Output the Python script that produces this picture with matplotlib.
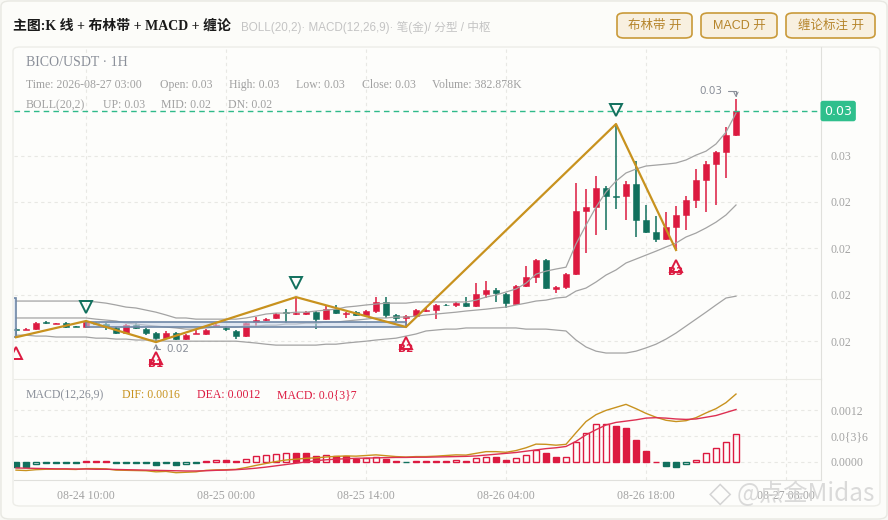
import matplotlib
matplotlib.use('Agg')
import matplotlib.pyplot as plt
from matplotlib.patches import FancyBboxPatch, Rectangle
from matplotlib.transforms import offset_copy, blended_transform_factory

# ---------------- data ----------------
opens = [0.01852, 0.01850, 0.01852, 0.01880, 0.01876, 0.01878, 0.01863, 0.01861, 0.01878, 0.01874,
         0.01857, 0.01835, 0.01869, 0.01852, 0.01835, 0.01813, 0.01835, 0.01809, 0.01833, 0.01831,
         0.01865, 0.01857, 0.01844, 0.01822, 0.01882, 0.01893, 0.01900, 0.01923, 0.01917, 0.01917,
         0.01926, 0.01895, 0.01938, 0.01919, 0.01926, 0.01913, 0.01930, 0.01969, 0.01913, 0.01900,
         0.01908, 0.01932, 0.01934, 0.01956, 0.01956, 0.01964, 0.01951, 0.02003, 0.02020, 0.02003,
         0.01960, 0.02038, 0.02076, 0.02150, 0.02025, 0.02033, 0.02089, 0.02361, 0.02378, 0.02460,
         0.02423, 0.02425, 0.02477, 0.02322, 0.02270, 0.02240, 0.02292, 0.02344, 0.02408, 0.02494,
         0.02563, 0.02615, 0.02688]
highs = [0.01857, 0.01857, 0.01882, 0.01887, 0.01880, 0.01882, 0.01865, 0.01887, 0.01882, 0.01878,
         0.01861, 0.01874, 0.01878, 0.01857, 0.01839, 0.01844, 0.01839, 0.01831, 0.01848, 0.01852,
         0.01874, 0.01865, 0.01848, 0.01882, 0.01904, 0.01900, 0.01921, 0.01938, 0.01990, 0.01930,
         0.01930, 0.01951, 0.01956, 0.01926, 0.01930, 0.01934, 0.01990, 0.01990, 0.01917, 0.01913,
         0.01938, 0.01943, 0.01960, 0.01960, 0.01969, 0.01990, 0.02051, 0.02059, 0.02029, 0.02007,
         0.02042, 0.02124, 0.02154, 0.02154, 0.02038, 0.02094, 0.02482, 0.02456, 0.02512, 0.02469,
         0.02736, 0.02490, 0.02576, 0.02387, 0.02339, 0.02357, 0.02382, 0.02425, 0.02542, 0.02576,
         0.02619, 0.02723, 0.02844]
lows = [0.01817, 0.01848, 0.01848, 0.01874, 0.01874, 0.01857, 0.01859, 0.01857, 0.01869, 0.01848,
        0.01831, 0.01831, 0.01852, 0.01826, 0.01796, 0.01809, 0.01805, 0.01805, 0.01831, 0.01826,
        0.01861, 0.01844, 0.01809, 0.01818, 0.01861, 0.01887, 0.01895, 0.01878, 0.01913, 0.01913,
        0.01852, 0.01891, 0.01917, 0.01900, 0.01908, 0.01908, 0.01921, 0.01900, 0.01887, 0.01861,
        0.01904, 0.01926, 0.01895, 0.01951, 0.01947, 0.01947, 0.01947, 0.01986, 0.01969, 0.01943,
        0.01956, 0.02033, 0.02051, 0.02025, 0.02007, 0.02025, 0.02085, 0.02180, 0.02257, 0.02279,
        0.02369, 0.02322, 0.02249, 0.02266, 0.02227, 0.02236, 0.02193, 0.02279, 0.02374, 0.02357,
        0.02387, 0.02503, 0.02684]
closes = [0.01848, 0.01852, 0.01878, 0.01878, 0.01878, 0.01861, 0.01861, 0.01882, 0.01874, 0.01861,
          0.01835, 0.01869, 0.01857, 0.01835, 0.01813, 0.01835, 0.01809, 0.01826, 0.01835, 0.01848,
          0.01868, 0.01854, 0.01822, 0.01878, 0.01891, 0.01895, 0.01917, 0.01921, 0.01921, 0.01926,
          0.01895, 0.01938, 0.01921, 0.01921, 0.01913, 0.01930, 0.01969, 0.01913, 0.01900, 0.01908,
          0.01934, 0.01934, 0.01956, 0.01954, 0.01964, 0.01951, 0.02003, 0.02020, 0.02007, 0.01964,
          0.02038, 0.02076, 0.02150, 0.02029, 0.02033, 0.02089, 0.02361, 0.02378, 0.02460, 0.02425,
          0.02421, 0.02477, 0.02322, 0.02270, 0.02240, 0.02292, 0.02344, 0.02408, 0.02494, 0.02563,
          0.02615, 0.02688, 0.02792]

boll_up = [0.01973, 0.01973, 0.01973, 0.01973, 0.01973, 0.01973, 0.01973, 0.01973, 0.01969, 0.01964,
           0.01956, 0.01947, 0.01943, 0.01934, 0.01925, 0.01913, 0.01900, 0.01900, 0.01895, 0.01895,
           0.01895, 0.01895, 0.01895, 0.01900, 0.01908, 0.01917, 0.01921, 0.01921, 0.01925, 0.01925,
           0.01930, 0.01934, 0.01938, 0.01947, 0.01951, 0.01956, 0.01960, 0.01964, 0.01964, 0.01964,
           0.01969, 0.01969, 0.01969, 0.01969, 0.01969, 0.01969, 0.01977, 0.01990, 0.01999, 0.02012,
           0.02025, 0.02050, 0.02089, 0.02102, 0.02111, 0.02119, 0.02219, 0.02300, 0.02378, 0.02443,
           0.02490, 0.02525, 0.02542, 0.02555, 0.02559, 0.02563, 0.02568, 0.02581, 0.02602, 0.02619,
           0.02650, 0.02701, 0.02783]
boll_mid = [0.01900, 0.01900, 0.01900, 0.01900, 0.01900, 0.01900, 0.01900, 0.01900, 0.01895, 0.01891,
            0.01887, 0.01878, 0.01874, 0.01869, 0.01865, 0.01861, 0.01857, 0.01852, 0.01852, 0.01857,
            0.01861, 0.01861, 0.01861, 0.01865, 0.01865, 0.01869, 0.01869, 0.01874, 0.01874, 0.01878,
            0.01878, 0.01882, 0.01882, 0.01887, 0.01891, 0.01895, 0.01900, 0.01900, 0.01904, 0.01904,
            0.01908, 0.01913, 0.01917, 0.01921, 0.01925, 0.01930, 0.01934, 0.01938, 0.01943, 0.01947,
            0.01956, 0.01964, 0.01973, 0.01977, 0.01986, 0.01990, 0.02016, 0.02029, 0.02055, 0.02085,
            0.02107, 0.02137, 0.02154, 0.02171, 0.02188, 0.02206, 0.02223, 0.02249, 0.02266, 0.02288,
            0.02313, 0.02344, 0.02387]
boll_dn = [0.01826, 0.01826, 0.01822, 0.01822, 0.01818, 0.01818, 0.01818, 0.01818, 0.01813, 0.01813,
           0.01809, 0.01809, 0.01805, 0.01805, 0.01805, 0.01800, 0.01800, 0.01800, 0.01800, 0.01800,
           0.01800, 0.01800, 0.01800, 0.01796, 0.01792, 0.01787, 0.01783, 0.01783, 0.01783, 0.01783,
           0.01783, 0.01787, 0.01787, 0.01792, 0.01796, 0.01800, 0.01805, 0.01809, 0.01813, 0.01822,
           0.01831, 0.01844, 0.01848, 0.01852, 0.01852, 0.01857, 0.01857, 0.01857, 0.01857, 0.01857,
           0.01857, 0.01852, 0.01852, 0.01852, 0.01848, 0.01844, 0.01805, 0.01775, 0.01757, 0.01749,
           0.01749, 0.01749, 0.01757, 0.01771, 0.01787, 0.01809, 0.01835, 0.01865, 0.01895, 0.01925,
           0.01956, 0.01986, 0.01994]

macd_hist = [-1.1e-4, -1.2e-4, -0.5e-4, -0.2e-4, -0.2e-4, -0.2e-4, -0.3e-4, 0.2e-4, 0.3e-4, 0.2e-4,
             -0.3e-4, -0.3e-4, -0.25e-4, -0.25e-4, -0.6e-4, -0.3e-4, -0.8e-4, -0.5e-4, -0.3e-4, 0.2e-4,
             0.5e-4, 0.5e-4, 0.2e-4, 0.7e-4, 1.4e-4, 1.6e-4, 1.9e-4, 2.1e-4, 2.1e-4, 2.0e-4,
             1.5e-4, 1.6e-4, 1.5e-4, 1.3e-4, 0.7e-4, 1.0e-4, 1.05e-4, 0.8e-4, 0.2e-4, -0.1e-4,
             0.15e-4, 0.15e-4, 0.3e-4, 0.3e-4, 0.5e-4, 0.3e-4, 0.9e-4, 1.2e-4, 1.2e-4, 0.5e-4,
             0.9e-4, 1.6e-4, 2.7e-4, 2.0e-4, 1.2e-4, 1.25e-4, 4.7e-4, 6.8e-4, 8.8e-4, 8.9e-4,
             8.3e-4, 8.0e-4, 5.2e-4, 2.5e-4, 0.1e-4, -1.0e-4, -1.2e-4, -0.5e-4, 0.5e-4, 2.1e-4,
             3.3e-4, 4.7e-4, 6.6e-4]
dif = [-1.9e-4, -2.0e-4, -1.8e-4, -1.7e-4, -1.7e-4, -1.7e-4, -1.75e-4, -1.55e-4, -1.55e-4, -1.6e-4,
       -1.9e-4, -1.95e-4, -2.0e-4, -2.05e-4, -2.3e-4, -2.2e-4, -2.5e-4, -2.4e-4, -2.3e-4, -1.95e-4,
       -1.85e-4, -1.8e-4, -1.72e-4, -1.3e-4, -0.8e-4, -0.35e-4, 0.1e-4, 0.45e-4, 0.65e-4, 0.85e-4,
       0.95e-4, 1.15e-4, 1.3e-4, 1.4e-4, 1.35e-4, 1.5e-4, 1.65e-4, 1.45e-4, 1.25e-4, 1.15e-4,
       1.25e-4, 1.25e-4, 1.35e-4, 1.5e-4, 1.65e-4, 1.6e-4, 2.0e-4, 2.4e-4, 2.4e-4, 2.25e-4,
       2.65e-4, 3.3e-4, 4.15e-4, 4.1e-4, 3.9e-4, 4.1e-4, 6.8e-4, 9.4e-4, 11.0e-4, 12.0e-4,
       12.7e-4, 13.4e-4, 12.4e-4, 11.3e-4, 10.4e-4, 9.7e-4, 9.4e-4, 9.6e-4, 10.3e-4, 11.4e-4,
       12.4e-4, 13.8e-4, 15.8e-4]
dea = [-1.4e-4, -1.45e-4, -1.5e-4, -1.55e-4, -1.6e-4, -1.6e-4, -1.65e-4, -1.65e-4, -1.7e-4, -1.7e-4,
       -1.75e-4, -1.8e-4, -1.85e-4, -1.9e-4, -1.95e-4, -2.0e-4, -2.05e-4, -2.1e-4, -2.1e-4, -2.05e-4,
       -1.95e-4, -1.9e-4, -1.8e-4, -1.65e-4, -1.45e-4, -1.2e-4, -0.9e-4, -0.6e-4, -0.3e-4, 0.0,
       0.3e-4, 0.5e-4, 0.65e-4, 0.75e-4, 0.85e-4, 0.9e-4, 0.95e-4, 1.0e-4, 1.05e-4, 1.05e-4,
       1.1e-4, 1.1e-4, 1.15e-4, 1.2e-4, 1.25e-4, 1.3e-4, 1.4e-4, 1.6e-4, 1.8e-4, 2.0e-4,
       2.2e-4, 2.5e-4, 2.8e-4, 3.1e-4, 3.3e-4, 3.6e-4, 4.8e-4, 6.3e-4, 7.5e-4, 8.6e-4,
       9.2e-4, 9.5e-4, 9.8e-4, 10.2e-4, 10.3e-4, 10.2e-4, 10.0e-4, 9.9e-4, 10.0e-4, 10.4e-4,
       10.8e-4, 11.5e-4, 12.2e-4]

# Chan theory annotations
bi_index = [0, 7, 14, 28, 39, 60, 66]
bi_price = [0.01817, 0.01887, 0.01796, 0.01990, 0.01861, 0.02736, 0.02193]
pivot_boxes = [(-4, 0, 0.01817, 0.01986), (7, 39, 0.01861, 0.01882)]
buy_index = [0, 14, 39, 66]
buy_labels = ['', 'B1', 'B2', 'B3']
sell_index = [7, 28, 60]

time_tick_index = [7, 21, 35, 49, 63, 77]
time_tick_labels = ['08-24 10:00', '08-25 00:00', '08-25 14:00', '08-26 04:00', '08-26 18:00', '08-27 08:00']
price_ticks = [0.018, 0.020, 0.022, 0.024, 0.026]
price_tick_labels = ['0.02', '0.02', '0.02', '0.02', '0.03']
macd_ticks = [0.0, 0.0006, 0.0012]
macd_tick_labels = ['0.0000', '0.0{3}6', '0.0012']

# ---------------- style ----------------
RED = '#dc1a40'
GREEN = '#11705d'
GOLD = '#c8921e'
SERIF = 'Liberation Serif'
CJK = 'Noto Sans CJK SC'

W, H = 888, 520
fig = plt.figure(figsize=(W / 100, H / 100), dpi=100)
fig.patch.set_facecolor('#f8f8f4')


def fx(px):
    return px / W


def fy(py):
    return 1 - py / H


outer = FancyBboxPatch((fx(1), fy(519)), fx(887) - fx(1), fy(1) - fy(519),
                       boxstyle='round,pad=0,rounding_size=0.01', transform=fig.transFigure,
                       fc='#fcfcf9', ec='#e8e8e2', lw=1, zorder=-3)
fig.patches.append(outer)
card = FancyBboxPatch((fx(13), fy(506)), fx(880) - fx(13), fy(47) - fy(506),
                      boxstyle='round,pad=0,rounding_size=0.008', transform=fig.transFigure,
                      fc='#fdfdfb', ec='#edede8', lw=1, zorder=-2)
fig.patches.append(card)

# header
fig.text(fx(13), fy(26), '主图:K 线 + 布林带 + MACD + 缠论', family=[SERIF, CJK], weight='bold',
         fontsize=10, color='#1a1a1a', va='center', ha='left')
fig.text(fx(241), fy(27), 'BOLL(20,2)· MACD(12,26,9)· 笔(金)/ 分型 / 中枢', family=['Liberation Sans', CJK],
         fontsize=8.4, color='#c4c4c4', va='center', ha='left')

buttons = [(617, 692, '布林带 开'), (701, 777, 'MACD 开'), (786, 875, '缠论标注 开')]
for x0, x1, lab in buttons:
    b = FancyBboxPatch((fx(x0), fy(38)), fx(x1) - fx(x0), fy(13) - fy(38),
                       boxstyle='round,pad=0,rounding_size=0.008', transform=fig.transFigure,
                       fc='#f8f0e0', ec='#c99a3a', lw=1.2)
    fig.patches.append(b)
    fig.text(fx((x0 + x1) / 2), fy(25.5), lab, family=['Liberation Sans', CJK], fontsize=9,
             color='#b5842a', ha='center', va='center')

# ---------------- main axes ----------------
ax = fig.add_axes([fx(14), fy(379), fx(821) - fx(14), fy(47) - fy(379)], zorder=2)
ax.set_facecolor('none')
ax.set_xlim(-0.2, 80.5)
ax.set_ylim(0.01637, 0.03068)
for s in ['top', 'left']:
    ax.spines[s].set_visible(False)
ax.spines['right'].set_color('#e0e0dc')
ax.spines['bottom'].set_color('#ebebe6')
ax.yaxis.tick_right()
ax.set_yticks(price_ticks)
ax.set_yticklabels(price_tick_labels, family=SERIF, fontsize=8.5, color='#a3a3a3')
ax.set_xticks(time_tick_index)
ax.set_xticklabels([])
ax.tick_params(length=0, pad=7)
ax.grid(True, ls=(0, (3, 3)), color='#e8e8e4', lw=0.8)
ax.set_axisbelow(True)

idx = list(range(len(opens)))
colors = [RED if c >= o else GREEN for o, c in zip(opens, closes)]
bottoms = [min(o, c) for o, c in zip(opens, closes)]
heights = [max(abs(c - o), 0.00004) for o, c in zip(opens, closes)]
ax.vlines(idx, lows, highs, colors=colors, lw=1.1, zorder=2)
ax.bar(idx, heights, bottom=bottoms, width=0.68, color=colors, edgecolor=colors, lw=0.4, zorder=2)

ax.plot(idx, boll_up, color='#a3a3a3', lw=0.9, zorder=3)
ax.plot(idx, boll_mid, color='#a3a3a3', lw=0.9, zorder=3)
ax.plot(idx, boll_dn, color='#a3a3a3', lw=0.9, zorder=3)

for i0, i1, p0, p1 in pivot_boxes:
    ax.add_patch(Rectangle((i0, p0), i1 - i0, p1 - p0, fc='#c9d6ea', alpha=0.55, ec='none', zorder=4))
    ax.add_patch(Rectangle((i0, p0), i1 - i0, p1 - p0, fc='none', ec='#6f87a6', lw=1.2, zorder=4))

ax.plot(bi_index, bi_price, color=GOLD, lw=1.6, zorder=5)

down_off = offset_copy(ax.transData, fig=fig, x=0, y=-16, units='dots')
text_off = offset_copy(ax.transData, fig=fig, x=0, y=-22, units='dots')
up_off = offset_copy(ax.transData, fig=fig, x=0, y=14, units='dots')
for bi, lab in zip(buy_index, buy_labels):
    ax.plot(bi, lows[bi], marker='^', ms=9, mfc='none', mec=RED, mew=1.4, transform=down_off,
            zorder=6, clip_on=True)
    if lab:
        ax.text(bi, lows[bi], lab, transform=text_off, color=RED, fontsize=7.5, weight='bold',
                family='DejaVu Sans', ha='center', va='center', zorder=7)
for si in sell_index:
    ax.plot(si, highs[si], marker='v', ms=9, mfc='none', mec=GREEN, mew=1.4, transform=up_off, zorder=6)

# current price line + tag
last = closes[-1]
ax.axhline(last, color='#2fba8a', ls=(0, (4, 3)), lw=1.0, zorder=5)
btr = blended_transform_factory(ax.transAxes, ax.transData)
ax.text(1.004, last, '0.03', transform=btr, ha='left', va='center', color='white', fontsize=9,
        family='DejaVu Sans', bbox=dict(boxstyle='round,pad=0.3,rounding_size=0.2', fc='#2fbf8c', ec='none'),
        zorder=8, clip_on=False)

# high / low annotations
hi_i = len(highs) - 1
ax.annotate('0.03', xy=(hi_i, highs[hi_i]), xytext=(-14, 8), textcoords='offset pixels',
            ha='right', va='center', fontsize=7.5, color='#8a8f99', family='DejaVu Sans',
            arrowprops=dict(arrowstyle='->', color='#8a8f99', lw=0.8, shrinkA=2, shrinkB=1,
                            connectionstyle='angle,angleA=0,angleB=90,rad=0'), zorder=8)
lo_i = 14
ax.annotate('0.02', xy=(lo_i, lows[lo_i]), xytext=(10, -7), textcoords='offset pixels',
            ha='left', va='center', fontsize=7.5, color='#8a8f99', family='DejaVu Sans',
            arrowprops=dict(arrowstyle='->', color='#8a8f99', lw=0.8, shrinkA=2, shrinkB=1,
                            connectionstyle='angle,angleA=0,angleB=90,rad=0'), zorder=8)

# info texts
fig.text(fx(26), fy(63), 'BICO/USDT · 1H', family=SERIF, fontsize=10, color='#8a8f99', va='center')
info2 = [(26, 'Time: 2026-08-27 03:00'), (160, 'Open: 0.03'), (229, 'High: 0.03'), (296, 'Low: 0.03'),
         (362, 'Close: 0.03'), (432, 'Volume: 382.878K')]
for x, t in info2:
    fig.text(fx(x), fy(85), t, family=SERIF, fontsize=8.5, color='#a0a0a0', va='center')
info3 = [(26, 'BOLL(20,2)'), (103, 'UP: 0.03'), (161, 'MID: 0.02'), (228, 'DN: 0.02')]
for x, t in info3:
    fig.text(fx(x), fy(105), t, family=SERIF, fontsize=8.5, color='#a0a0a0', va='center')

# ---------------- MACD axes ----------------
ax2 = fig.add_axes([fx(14), fy(480), fx(821) - fx(14), fy(379) - fy(480)], zorder=2)
ax2.set_facecolor('none')
ax2.set_xlim(-0.2, 80.5)
ax2.set_ylim(-0.00042, 0.00193)
for s in ['top', 'left']:
    ax2.spines[s].set_visible(False)
ax2.spines['right'].set_color('#e0e0dc')
ax2.spines['bottom'].set_color('#e0e0dc')
ax2.yaxis.tick_right()
ax2.set_yticks(macd_ticks)
ax2.set_yticklabels(macd_tick_labels, family=SERIF, fontsize=8.5, color='#a3a3a3')
ax2.set_xticks(time_tick_index)
ax2.set_xticklabels(time_tick_labels, family=SERIF, fontsize=8.5, color='#a3a3a3')
ax2.tick_params(length=0, pad=7)
ax2.grid(True, ls=(0, (3, 3)), color='#e8e8e4', lw=0.8)
ax2.set_axisbelow(True)

for i, v in enumerate(macd_hist):
    prev = macd_hist[i - 1] if i > 0 else v
    col = RED if v >= 0 else GREEN
    hollow = v > prev
    ax2.bar(i, v, width=0.6, fc='none' if hollow else col, ec=col, lw=1.0, zorder=2)
ax2.plot(idx, dif, color=GOLD, lw=1.0, zorder=3)
ax2.plot(idx, dea, color='#dd3052', lw=1.0, zorder=3)

legend_items = [(26, 'MACD(12,26,9)', '#8a8f99'), (122, 'DIF: 0.0016', GOLD),
                (197, 'DEA: 0.0012', RED), (277, 'MACD: 0.0{3}7', RED)]
for x, t, c in legend_items:
    fig.text(fx(x), fy(395), t, family=SERIF, fontsize=8.5, color=c, va='center')

# watermark
fig.text(fx(720), fy(494), '◇', family='DejaVu Sans', fontsize=21, color='#d4d4d4', ha='center', va='center',
         zorder=5)
fig.text(fx(737), fy(494), '@点金Midas', family=[CJK, 'DejaVu Sans'], fontsize=17.5, color='#d4d4d4',
         ha='left', va='center', alpha=0.85, zorder=5)

fig.savefig('out.png', dpi=100, facecolor=fig.get_facecolor())
